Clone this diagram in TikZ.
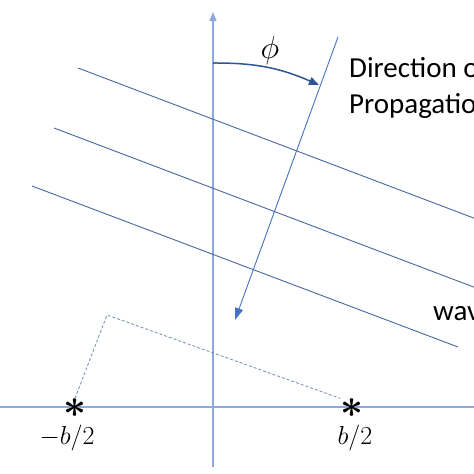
\documentclass[tikz,border=0pt]{standalone}
\usepackage{fix-cm}
\usepackage{amsmath}
\usepackage{fontspec}
\setmainfont{Carlito}
\usetikzlibrary{arrows.meta}
\definecolor{axisblue}{HTML}{8EA9DB}
\definecolor{frontblue}{HTML}{4A6799}
\definecolor{dirblue}{HTML}{4472C4}
\definecolor{arcblue}{HTML}{2F5597}
\definecolor{pathgrey}{HTML}{7F95BE}

\begin{document}
\begin{tikzpicture}[x=1pt, y=-1pt,
  axis/.style = {draw=axisblue, line width=1.3pt},
  front/.style = {draw=frontblue, line width=0.9pt},
  every node/.style = {inner sep=0pt},
  lbl/.style = {font=\fontsize{29}{33}\selectfont, anchor=base west},
  mathlbl/.style = {font=\fontsize{26}{29}\selectfont},
  src/.style = {font=\fontsize{40}{40}\selectfont}]
  \useasboundingbox (0,0) rectangle (474,474);
  \clip (0,0) rectangle (474,474);

  % axes
  \coordinate (origin) at (213,407);
  \coordinate (ytop) at (213,12);
  \coordinate (ybot) at (213,467);
  \coordinate (xleft) at (0,407);
  \coordinate (xright) at (474,407);
  \draw[axis] (xleft) -- (xright);
  \draw[axis, -{Triangle[length=9pt,width=7pt]}] (ybot) -- (ytop);

  % wavefronts
  \foreach \sx/\sy/\ex/\ey in {78/68/500/228, 54/128/500/297, 32/186/458/347}
    \draw[front] (\sx,\sy) -- (\ex,\ey);

  % direction of propagation
  \coordinate (dtop) at (338,37);
  \coordinate (dbot) at (235,320);
  \draw[draw=dirblue, line width=0.9pt, -{Triangle[length=12pt,width=8pt]}] (dtop) -- (dbot);

  % angle
  \coordinate (arcstart) at (213,63);
  \coordinate (arcend) at (319,85);
  \draw[draw=arcblue, line width=1.5pt, -{Triangle[length=10pt,width=8pt]}]
    (arcstart) to[bend left=12] (arcend);
  \node[font=\fontsize{32}{34}\selectfont] (phi) at (270,50) {$\phi$};

  % sources and path difference
  \node[src] (srcl) at (75,408) {$\boldsymbol{\ast}$};
  \node[src] (srcr) at (352,408) {$\boldsymbol{\ast}$};
  \coordinate (corner) at (107,315);
  \draw[draw=pathgrey, line width=0.9pt, dash pattern=on 3pt off 2pt]
    (srcl.north) -- (corner) -- (srcr.north west);
  \node[mathlbl] (srcltxt) at (67,438) {$-b/2$};
  \node[mathlbl] (srcrtxt) at (355,438) {$b/2$};

  % labels
  \node[lbl] (dir) at (349,77) {Direction of};
  \node[lbl] (prop) at (349,113) {Propagation};
  \node[lbl] (wave) at (433,320) {wavefront};
\end{tikzpicture}
\end{document}
